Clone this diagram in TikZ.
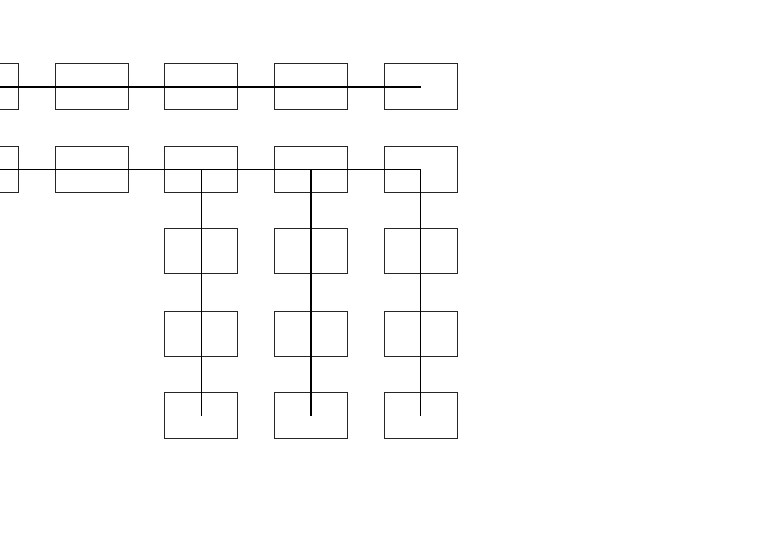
\documentclass[tikz,border=0pt]{standalone}
\begin{document}
\begin{tikzpicture}[x=1pt,y=-1pt,
  cell/.style={draw=black!85, line width=0.8pt, minimum width=73pt, minimum height=45.5pt, inner sep=0pt, fill=none},
  thinlink/.style={draw=black, line width=0.8pt},
  thicklink/.style={draw=black, line width=2pt}]
\useasboundingbox (0,0) rectangle (768,543);
\clip (0,0) rectangle (768,543);
\foreach \c/\x in {0/-18.3,1/91.5,2/201.2,3/311,4/420.6} {
  \node[cell] (a\c) at (\x,86.5) {};
  \node[cell] (b\c) at (\x,169.4) {};
}
\foreach \c/\x in {2/201.2,3/311,4/420.6} {
  \node[cell] (c\c) at (\x,251) {};
  \node[cell] (d\c) at (\x,334) {};
  \node[cell] (e\c) at (\x,415.5) {};
}
\draw[thicklink] (a0.center) -- (a4.center);
\draw[thinlink] (b0.center) -- (b4.center);
\draw[thinlink] (b2.center) -- (e2.center);
\draw[thicklink] (b3.center) -- (e3.center);
\draw[thinlink] (b4.center) -- (e4.center);
\end{tikzpicture}
\end{document}
